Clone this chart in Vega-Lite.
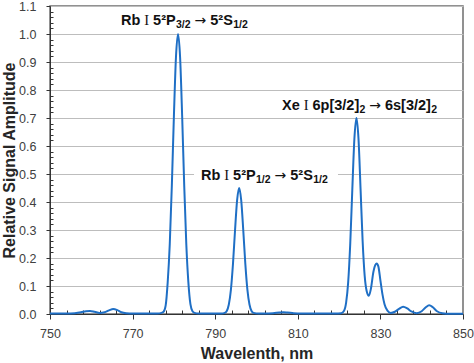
{
  "$schema": "https://vega.github.io/schema/vega-lite/v6.json",
  "width": 413,
  "height": 308,
  "autosize": {"type": "none"},
  "padding": {"left": 50, "top": 6, "right": 11, "bottom": 49},
  "background": "white",
  "config": {"view": {"stroke": "#6e6e6e", "strokeWidth": 1.5}, "font": "Liberation Sans"},
  "datasets": {
    "spectrum": [
      {"x": 750, "y": 0.002}, {"x": 752, "y": 0.002}, {"x": 754, "y": 0.002}, {"x": 756, "y": 0.003},
      {"x": 757.5, "y": 0.006}, {"x": 758.7, "y": 0.010}, {"x": 759.7, "y": 0.011}, {"x": 760.8, "y": 0.008},
      {"x": 762, "y": 0.004}, {"x": 763.2, "y": 0.006}, {"x": 764.3, "y": 0.013}, {"x": 765.3, "y": 0.018},
      {"x": 766.3, "y": 0.014}, {"x": 767.3, "y": 0.006}, {"x": 768.5, "y": 0.003}, {"x": 770, "y": 0.002},
      {"x": 772, "y": 0.002}, {"x": 774, "y": 0.002}, {"x": 776, "y": 0.002}, {"x": 777, "y": 0.004},
      {"x": 777.5, "y": 0.008}, {"x": 778, "y": 0.03}, {"x": 778.5, "y": 0.114}, {"x": 779, "y": 0.25},
      {"x": 779.5, "y": 0.458}, {"x": 780, "y": 0.706}, {"x": 780.5, "y": 0.917}, {"x": 781, "y": 1.0},
      {"x": 781.5, "y": 0.917}, {"x": 782, "y": 0.706}, {"x": 782.5, "y": 0.458}, {"x": 783, "y": 0.25},
      {"x": 783.5, "y": 0.114}, {"x": 784, "y": 0.035}, {"x": 784.5, "y": 0.01}, {"x": 785, "y": 0.004},
      {"x": 786, "y": 0.002}, {"x": 788, "y": 0.002}, {"x": 790, "y": 0.002}, {"x": 791.5, "y": 0.002},
      {"x": 792.3, "y": 0.004}, {"x": 792.8, "y": 0.011}, {"x": 793.3, "y": 0.034}, {"x": 793.8, "y": 0.086},
      {"x": 794.3, "y": 0.178}, {"x": 794.8, "y": 0.298}, {"x": 795.3, "y": 0.406}, {"x": 795.8, "y": 0.45},
      {"x": 796.3, "y": 0.406}, {"x": 796.8, "y": 0.298}, {"x": 797.3, "y": 0.178}, {"x": 797.8, "y": 0.086},
      {"x": 798.3, "y": 0.034}, {"x": 798.8, "y": 0.011}, {"x": 799.3, "y": 0.004}, {"x": 800.5, "y": 0.002},
      {"x": 802, "y": 0.002}, {"x": 804, "y": 0.003}, {"x": 805.5, "y": 0.005}, {"x": 806.5, "y": 0.006},
      {"x": 807.5, "y": 0.005}, {"x": 809, "y": 0.003}, {"x": 811, "y": 0.002}, {"x": 814, "y": 0.002},
      {"x": 817, "y": 0.002}, {"x": 819, "y": 0.002}, {"x": 820.5, "y": 0.003}, {"x": 821.2, "y": 0.012},
      {"x": 821.7, "y": 0.041}, {"x": 822.2, "y": 0.114}, {"x": 822.7, "y": 0.252}, {"x": 823.2, "y": 0.445},
      {"x": 823.7, "y": 0.625}, {"x": 824.2, "y": 0.70}, {"x": 824.7, "y": 0.625}, {"x": 825.2, "y": 0.445},
      {"x": 825.7, "y": 0.26}, {"x": 826.2, "y": 0.135}, {"x": 826.7, "y": 0.08}, {"x": 827.2, "y": 0.065},
      {"x": 827.7, "y": 0.09}, {"x": 828.3, "y": 0.15}, {"x": 828.8, "y": 0.176}, {"x": 829.1, "y": 0.18},
      {"x": 829.5, "y": 0.17}, {"x": 830, "y": 0.12}, {"x": 830.5, "y": 0.07}, {"x": 831, "y": 0.035},
      {"x": 831.7, "y": 0.012}, {"x": 832.5, "y": 0.004}, {"x": 833.5, "y": 0.008}, {"x": 834.5, "y": 0.018},
      {"x": 835.5, "y": 0.026}, {"x": 836.5, "y": 0.02}, {"x": 837.5, "y": 0.009}, {"x": 838.8, "y": 0.003},
      {"x": 840, "y": 0.01}, {"x": 841, "y": 0.024}, {"x": 841.8, "y": 0.031}, {"x": 842.7, "y": 0.024},
      {"x": 843.7, "y": 0.01}, {"x": 845, "y": 0.003}, {"x": 847, "y": 0.001}, {"x": 850, "y": 0.001}
    ],
    "labels": [
      {"x": 767.19, "y": 1.032, "text": "Rb", "part": "main"},
      {"x": 772.83, "y": 1.032, "text": "I", "part": "roman"},
      {"x": 774.96, "y": 1.032, "text": "5²P", "part": "main"},
      {"x": 780.51, "y": 1.021, "text": "3/2", "part": "sub"},
      {"x": 785.01, "y": 1.032, "text": "→", "part": "arrow"},
      {"x": 788.81, "y": 1.032, "text": "5²S", "part": "main"},
      {"x": 794.36, "y": 1.021, "text": "1/2", "part": "sub"},
      {"x": 786.56, "y": 0.4786, "text": "Rb", "part": "main"},
      {"x": 792.20, "y": 0.4786, "text": "I", "part": "roman"},
      {"x": 794.33, "y": 0.4786, "text": "5²P", "part": "main"},
      {"x": 799.88, "y": 0.4679, "text": "1/2", "part": "sub"},
      {"x": 804.38, "y": 0.4786, "text": "→", "part": "arrow"},
      {"x": 808.18, "y": 0.4786, "text": "5²S", "part": "main"},
      {"x": 813.73, "y": 0.4679, "text": "1/2", "part": "sub"},
      {"x": 806.17, "y": 0.7286, "text": "Xe", "part": "main"},
      {"x": 811.43, "y": 0.7286, "text": "I", "part": "roman"},
      {"x": 813.56, "y": 0.7286, "text": "6p[3/2]", "part": "main"},
      {"x": 824.94, "y": 0.7179, "text": "2", "part": "sub"},
      {"x": 827.31, "y": 0.7286, "text": "→", "part": "arrow"},
      {"x": 831.11, "y": 0.7286, "text": "6s[3/2]", "part": "main"},
      {"x": 842.30, "y": 0.7179, "text": "2", "part": "sub"}
    ],
    "boxes": [
      {"x": 784.87, "x2": 819.73, "y": 0.4607, "y2": 0.5286}
    ]
  },
  "encoding": {
    "x": {
      "field": "x",
      "type": "quantitative",
      "scale": {"domain": [750, 850], "nice": false, "zero": false},
      "axis": {
        "title": "Wavelenth, nm",
        "values": [750, 754, 758, 762, 766, 770, 774, 778, 782, 786, 790, 794, 798, 802, 806, 810, 814, 818, 822, 826, 830, 834, 838, 842, 846, 850],
        "labelExpr": "(datum.value - 750) % 20 === 0 ? datum.label : ''",
        "tickSize": {"condition": {"test": "(datum.value - 750) % 20 === 0", "value": 5}, "value": -4},
        "tickColor": "#333333",
        "domainColor": "#333333",
        "grid": false,
        "labelFont": "Liberation Sans",
        "labelFontSize": 12.5,
        "labelColor": "#404040",
        "labelPadding": 8,
        "labelFlush": false,
        "labelOverlap": false,
        "titleFont": "Liberation Sans",
        "titleFontSize": 16,
        "titleFontWeight": "bold",
        "titleColor": "#262626",
        "titleX": 206.5,
        "titleY": 44,
        "titleBaseline": "alphabetic",
        "titleAlign": "center"
      }
    },
    "y": {
      "field": "y",
      "type": "quantitative",
      "scale": {"domain": [0, 1.1], "nice": false, "zero": false},
      "axis": {
        "title": "Relative Signal Amplitude",
        "values": [0, 0.02, 0.04, 0.06, 0.08, 0.1, 0.12, 0.14, 0.16, 0.18, 0.2, 0.22, 0.24, 0.26, 0.28, 0.3, 0.32, 0.34, 0.36, 0.38, 0.4, 0.42, 0.44, 0.46, 0.48, 0.5, 0.52, 0.54, 0.56, 0.58, 0.6, 0.62, 0.64, 0.66, 0.68, 0.7, 0.72, 0.74, 0.76, 0.78, 0.8, 0.82, 0.84, 0.86, 0.88, 0.9, 0.92, 0.94, 0.96, 0.98, 1.0, 1.02, 1.04, 1.06, 1.08, 1.1],
        "labelExpr": "round(datum.value * 100) % 10 === 0 ? format(datum.value, '.1f') : ''",
        "tickSize": {"condition": {"test": "round(datum.value * 100) % 10 === 0", "value": 4}, "value": -3},
        "grid": true,
        "gridColor": "#bdbdbd",
        "gridWidth": 1,
        "gridOpacity": {"condition": {"test": "round(datum.value * 100) % 10 === 0", "value": 1}, "value": 0},
        "tickColor": "#333333",
        "domainColor": "#333333",
        "labelFont": "Liberation Sans",
        "labelFontSize": 12.5,
        "labelColor": "#404040",
        "labelPadding": 10,
        "labelFlush": false,
        "labelOverlap": false,
        "titleFont": "Liberation Sans",
        "titleFontSize": 16,
        "titleFontWeight": "bold",
        "titleColor": "#262626",
        "titleAngle": 270,
        "titleX": -36,
        "titleY": 154,
        "titleBaseline": "alphabetic",
        "titleAlign": "center"
      }
    }
  },
  "layer": [
    {
      "data": {"name": "boxes"},
      "mark": {"type": "rect", "fill": "white"},
      "encoding": {"x2": {"field": "x2"}, "y2": {"field": "y2"}}
    },
    {
      "data": {"name": "spectrum"},
      "mark": {"type": "line", "color": "#1f6fc5", "strokeWidth": 2, "interpolate": "monotone"}
    },
    {
      "data": {"name": "labels"},
      "transform": [{"filter": "datum.part === 'main'"}],
      "mark": {"type": "text", "align": "left", "baseline": "alphabetic", "font": "Liberation Sans", "fontWeight": "bold", "fontSize": 14.5, "color": "#111111"},
      "encoding": {"text": {"field": "text"}}
    },
    {
      "data": {"name": "labels"},
      "transform": [{"filter": "datum.part === 'sub'"}],
      "mark": {"type": "text", "align": "left", "baseline": "alphabetic", "font": "Liberation Sans", "fontWeight": "bold", "fontSize": 10.5, "color": "#111111"},
      "encoding": {"text": {"field": "text"}}
    },
    {
      "data": {"name": "labels"},
      "transform": [{"filter": "datum.part === 'arrow'"}],
      "mark": {"type": "text", "align": "left", "baseline": "alphabetic", "font": "DejaVu Sans", "fontWeight": "normal", "fontSize": 14, "color": "#111111"},
      "encoding": {"text": {"field": "text"}}
    },
    {
      "data": {"name": "labels"},
      "transform": [{"filter": "datum.part === 'roman'"}],
      "mark": {"type": "text", "align": "left", "baseline": "alphabetic", "font": "Liberation Serif", "fontWeight": "normal", "fontSize": 14.5, "color": "#111111"},
      "encoding": {"text": {"field": "text"}}
    }
  ]
}
